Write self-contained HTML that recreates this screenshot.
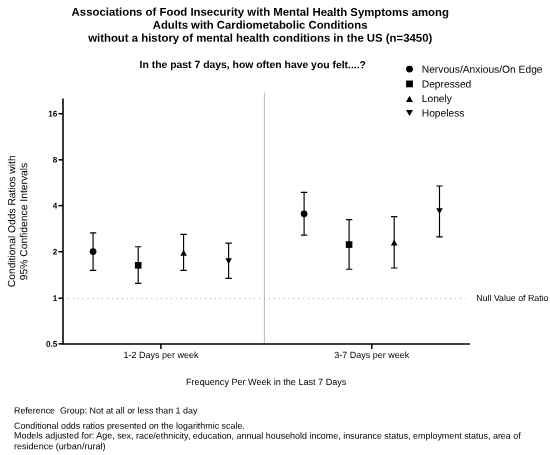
<!DOCTYPE html>
<html lang="en"><head><meta charset="utf-8"><title>Associations of Food Insecurity with Mental Health Symptoms</title>
<style>
html,body{margin:0;padding:0;background:#fff;}
body{width:550px;height:455px;overflow:hidden;}
svg{display:block;font-family:"Liberation Sans",Arial,Helvetica,sans-serif;fill:#000;}
.t{font-weight:bold;font-size:11.39px;text-anchor:middle;}
.s{font-weight:bold;font-size:10.4px;text-anchor:middle;}
.l{font-size:10.26px;}
.yl{text-anchor:middle;}
.tk{font-weight:bold;font-size:8.2px;text-anchor:end;}
.xc{font-size:9px;text-anchor:middle;}
.xt{font-size:9.08px;text-anchor:middle;}
.nv{font-size:8.8px;}
.fn{font-size:8.9px;}
.ax{stroke:#000;stroke-width:1.55;fill:none;}
.eb{stroke:#000;stroke-width:1.15;fill:none;}
</style></head><body>
<svg width="550" height="455" viewBox="0 0 550 455">
<rect width="550" height="455" fill="#fff"/>
<circle cx="409.5" cy="69.1" r="3.45"/>
<rect x="406.1" y="80.5" width="6.8" height="6.8"/>
<path d="M406.05 101.9 L412.95 101.9 L409.5 95.7Z"/>
<path d="M406.05 109.9 L412.95 109.9 L409.5 116.1Z"/>
<text class="yl" font-size="10.27" transform="translate(15.15 221.3) rotate(-90) matrix(1 0.0005 0 1 0 0)">Conditional Odds Ratios with</text>
<text class="yl" font-size="10.32" transform="translate(27.2 221.5) rotate(-90) matrix(1 0.0005 0 1 0 0)">95% Confidence Intervals</text>
<line x1="264.4" y1="92.6" x2="264.4" y2="343.8" stroke="#bbb" stroke-width="1"/>
<line x1="68" y1="298.65" x2="465.5" y2="298.65" stroke="#a6a6a6" stroke-width="1" stroke-dasharray="1 3.9"/>
<path class="ax" d="M63 98.4 V343.9 H470"/>
<line x1="58.5" y1="113.70" x2="63" y2="113.70" stroke="#000" stroke-width="1.5"/>
<line x1="58.5" y1="159.80" x2="63" y2="159.80" stroke="#000" stroke-width="1.5"/>
<line x1="58.5" y1="205.60" x2="63" y2="205.60" stroke="#000" stroke-width="1.5"/>
<line x1="58.5" y1="251.75" x2="63" y2="251.75" stroke="#000" stroke-width="1.5"/>
<line x1="58.5" y1="298.25" x2="63" y2="298.25" stroke="#000" stroke-width="1.5"/>
<line x1="58.5" y1="343.85" x2="63" y2="343.85" stroke="#000" stroke-width="1.5"/>
<line x1="160.9" y1="343.8" x2="160.9" y2="349" stroke="#000" stroke-width="1.5"/>
<line x1="371.8" y1="343.8" x2="371.8" y2="349" stroke="#000" stroke-width="1.5"/>
<path class="eb" d="M93.1 232.9 V270.4 M89.90 232.9 H96.30 M89.90 270.4 H96.30"/>
<circle cx="93.1" cy="251.6" r="3.35"/>
<path class="eb" d="M138.2 246.75 V283.4 M135.00 246.75 H141.40 M135.00 283.4 H141.40"/>
<rect x="134.90" y="262.00" width="6.6" height="6.6"/>
<path class="eb" d="M183.6 234.4 V270.3 M180.40 234.4 H186.80 M180.40 270.3 H186.80"/>
<path d="M180.30 255.65 L186.90 255.65 L183.6 249.75Z"/>
<path class="eb" d="M228.6 243.1 V278.4 M225.40 243.1 H231.80 M225.40 278.4 H231.80"/>
<path d="M225.30 258.15 L231.90 258.15 L228.6 264.05Z"/>
<path class="eb" d="M304.1 192.4 V235.1 M300.90 192.4 H307.30 M300.90 235.1 H307.30"/>
<circle cx="304.1" cy="213.8" r="3.35"/>
<path class="eb" d="M349.1 219.6 V269.2 M345.90 219.6 H352.30 M345.90 269.2 H352.30"/>
<rect x="345.80" y="241.30" width="6.6" height="6.6"/>
<path class="eb" d="M394.2 216.6 V268.0 M391.00 216.6 H397.40 M391.00 268.0 H397.40"/>
<path d="M390.90 245.50 L397.50 245.50 L394.2 239.60Z"/>
<path class="eb" d="M439.5 186.0 V236.9 M436.30 186.0 H442.70 M436.30 236.9 H442.70"/>
<path d="M436.20 208.20 L442.80 208.20 L439.5 214.10Z"/>
<g transform="matrix(1 0.0005 0 1 0 0)">
<text class="t" x="260.3" y="15.720">Associations of Food Insecurity with Mental Health Symptoms among</text>
<text class="t" style="font-size:11.3px" x="260.15" y="28.620">Adults with Cardiometabolic Conditions</text>
<text class="t" x="260.25" y="41.670">without a history of mental health conditions in the US (n=3450)</text>
<text class="s" x="252.8" y="67.974">In the past 7 days, how often have you felt....?</text>
<text class="l" x="421.75" y="72.475">Nervous/Anxious/On Edge</text>
<text class="l" x="421.75" y="87.175">Depressed</text>
<text class="l" x="421.75" y="101.725">Lonely</text>
<text class="l" x="421.75" y="116.225">Hopeless</text>
<text class="tk" x="57.4" y="116.474">16</text>
<text class="tk" x="57.4" y="162.574">8</text>
<text class="tk" x="57.4" y="208.374">4</text>
<text class="tk" x="57.4" y="254.524">2</text>
<text class="tk" x="57.4" y="301.024">1</text>
<text class="tk" x="57.4" y="346.624">0.5</text>
<text class="xc" x="161.1" y="358.019">1-2 Days per week</text>
<text class="xc" x="371.7" y="357.914">3-7 Days per week</text>
<text class="xt" x="266.2" y="384.817">Frequency Per Week in the Last 7 Days</text>
<text class="nv" x="476.3" y="300.844">Null Value of Ratio</text>
<text class="fn" xml:space="preserve" style="white-space:pre" x="14" y="413.498">Reference  Group: Not at all or less than 1 day</text>
<text class="fn" x="14" y="428.635">Conditional odds ratios presented on the logarithmic scale.</text>
<text class="fn" style="font-size:8.93px" x="14" y="438.566">Models adjusted for: Age, sex, race/ethnicity, education, annual household income, insurance status, employment status, area of</text>
<text class="fn" style="font-size:9.05px" x="14" y="449.270">residence (urban/rural)</text>
</g>
</svg></body></html>
